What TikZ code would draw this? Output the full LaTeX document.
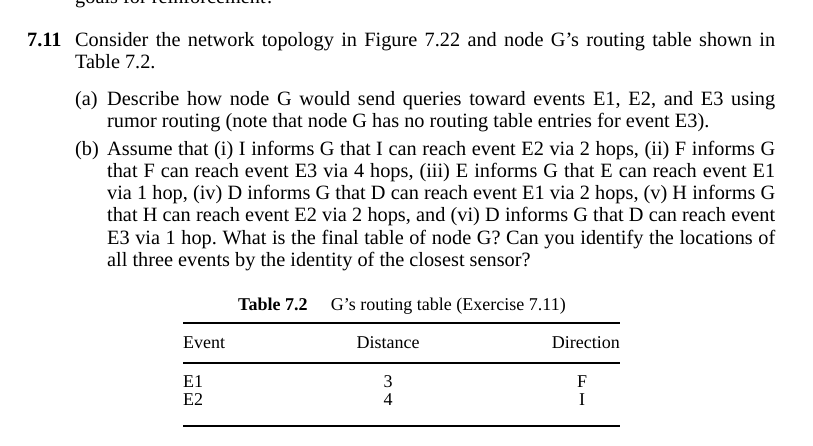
\documentclass[tikz,border=0pt]{standalone}
\usepackage{fontspec}
\setmainfont{Liberation Serif}
\begin{document}
\frenchspacing
\begin{tikzpicture}[x=1pt,y=-1pt,
  ln/.style={anchor=base west,inner sep=0pt,font=\fontsize{20.3}{22}\selectfont},
  tb/.style={anchor=base,inner sep=0pt,font=\fontsize{18}{19}\selectfont},
  rule/.style={line width=1.8pt}]
\useasboundingbox (0,0) rectangle (813,446);
\clip (0,0) rectangle (813,446);
\newcommand\jl[1]{\makebox[700pt][s]{#1}}
\newcommand\jm[1]{\makebox[668pt][s]{#1}}
\node[ln] (top) at (75,4) {goals for reinforcement?};
\node[ln,font=\fontsize{20.3}{22}\selectfont\bfseries] (num) at (27,47) {7.11};
\node[ln] (l1) at (75,47) {\jl{Consider the network topology in Figure 7.22 and node G’s routing table shown in}};
\node[ln] (l2) at (75,69) {Table 7.2.};
\node[ln] (a) at (75,106) {(a)};
\node[ln] (a1) at (107,106) {\jm{Describe how node G would send queries toward events E1, E2, and E3 using}};
\node[ln] (a2) at (107,128) {rumor routing (note that node G has no routing table entries for event E3).};
\node[ln] (b) at (75,156) {(b)};
\node[ln] (b1) at (107,156) {\jm{Assume that (i) I informs G that I can reach event E2 via 2 hops, (ii) F informs G}};
\node[ln] (b2) at (107,178) {\jm{that F can reach event E3 via 4 hops, (iii) E informs G that E can reach event E1}};
\node[ln] (b3) at (107,200) {\jm{via 1 hop, (iv) D informs G that D can reach event E1 via 2 hops, (v) H informs G}};
\node[ln] (b4) at (107,222) {\jm{that H can reach event E2 via 2 hops, and (vi) D informs G that D can reach event}};
\node[ln] (b5) at (107,244) {\jm{E3 via 1 hop. What is the final table of node G? Can you identify the locations of}};
\node[ln] (b6) at (107,266) {all three events by the identity of the closest sensor?};
\node[tb] (cap) at (402,310) {\textbf{Table 7.2}\hspace{1.3em}G’s routing table (Exercise 7.11)};
\draw[rule] (183,323) -- (620,323);
\draw[rule] (183,363) -- (620,363);
\draw[rule] (183,426) -- (620,426);
\node[tb,anchor=base west] (h1) at (183,348) {Event};
\node[tb] (h2) at (388,348) {Distance};
\node[tb,anchor=base east] (h3) at (620,348) {Direction};
\node[tb,anchor=base west] (r1a) at (183,387) {E1};
\node[tb] (r1b) at (388,387) {3};
\node[tb] (r1c) at (582,387) {F};
\node[tb,anchor=base west] (r2a) at (183,405) {E2};
\node[tb] (r2b) at (388,405) {4};
\node[tb] (r2c) at (582,405) {I};
\end{tikzpicture}
\end{document}
